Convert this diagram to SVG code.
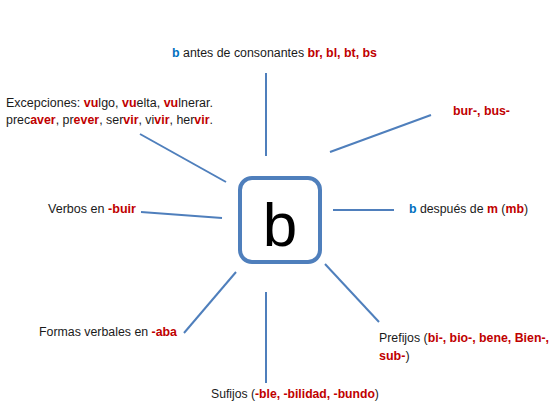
<svg xmlns="http://www.w3.org/2000/svg" width="560" height="420" viewBox="0 0 560 420">
<style>
text{font-family:"Liberation Sans",Arial,sans-serif;font-size:12.5px;fill:#1a1a1a}
.r{fill:#c00000;font-weight:bold}
.b{fill:#0070c0;font-weight:bold}
.ln{stroke:#4f7fbc;stroke-width:2;fill:none}
</style>
<rect width="560" height="420" fill="#fff"/>
<g id="connectors">
<line class="ln" x1="266" y1="73" x2="266" y2="156"/>
<line class="ln" x1="330" y1="152" x2="431" y2="115"/>
<line class="ln" x1="140" y1="134" x2="226" y2="182"/>
<line class="ln" x1="141" y1="212" x2="222" y2="218"/>
<line class="ln" x1="333" y1="210" x2="394" y2="210"/>
<line class="ln" x1="236" y1="272" x2="184" y2="333"/>
<line class="ln" x1="266" y1="292" x2="266" y2="383"/>
<line class="ln" x1="325" y1="264" x2="379" y2="322"/>
</g>
<g id="center">
<rect x="240" y="178" width="80" height="84" rx="12" fill="#fff" stroke="#4f7fbc" stroke-width="4"/>
<text x="280" y="246" text-anchor="middle" style="font-size:62px;fill:#000">b</text>
</g>
<g id="n-top"><text x="172" y="57" textLength="205" lengthAdjust="spacingAndGlyphs"><tspan class="b">b</tspan> antes de consonantes <tspan class="r">br, bl, bt, bs</tspan></text></g>
<g id="n-exc"><text x="6" y="107" textLength="207" lengthAdjust="spacingAndGlyphs">Excepciones: <tspan class="r">vu</tspan>lgo, <tspan class="r">vu</tspan>elta, <tspan class="r">vu</tspan>lnerar.</text>
<text x="6" y="124" textLength="207" lengthAdjust="spacingAndGlyphs">prec<tspan class="r">aver</tspan>, pr<tspan class="r">ever</tspan>, ser<tspan class="r">vir</tspan>, vi<tspan class="r">vir</tspan>, her<tspan class="r">vir</tspan>.</text></g>
<g id="n-bur"><text x="453" y="115" class="r" textLength="57" lengthAdjust="spacingAndGlyphs">bur-, bus-</text></g>
<g id="n-verbos"><text x="48" y="213" textLength="88" lengthAdjust="spacingAndGlyphs">Verbos en <tspan class="r">-buir</tspan></text></g>
<g id="n-mb"><text x="409" y="213" textLength="119" lengthAdjust="spacingAndGlyphs"><tspan class="b">b</tspan> después de <tspan class="r">m</tspan> (<tspan class="r">mb</tspan>)</text></g>
<g id="n-aba"><text x="39" y="336" textLength="138" lengthAdjust="spacingAndGlyphs">Formas verbales en <tspan class="r">-aba</tspan></text></g>
<g id="n-pref"><text x="379" y="342" textLength="170" lengthAdjust="spacingAndGlyphs">Prefijos (<tspan class="r">bi-, bio-, bene, Bien-,</tspan></text>
<text x="379" y="360"><tspan class="r">sub-</tspan>)</text></g>
<g id="n-suf"><text x="211" y="398" style="font-size:12.2px">Sufijos (<tspan class="r">-ble, -bilidad, -bundo</tspan>)</text></g>
</svg>
